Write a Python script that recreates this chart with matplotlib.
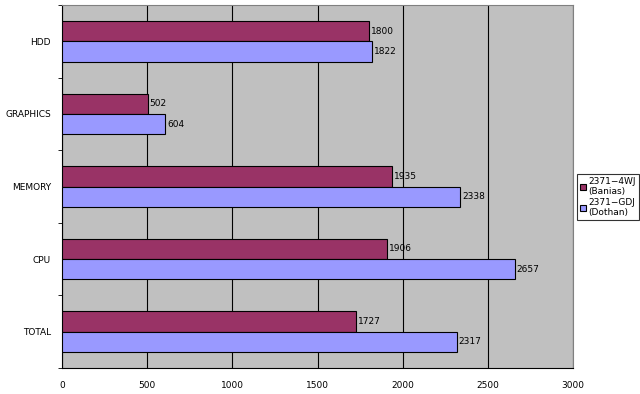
import matplotlib
matplotlib.use("Agg")
import matplotlib.pyplot as plt
import numpy as np

categories = ["HDD", "GRAPHICS", "MEMORY", "CPU", "TOTAL"]
banias = [1800, 502, 1935, 1906, 1727]
dothan = [1822, 604, 2338, 2657, 2317]
series_labels = ["2371\u22124WJ\n(Banias)", "2371\u2212GDJ\n(Dothan)"]
xticks = [0, 500, 1000, 1500, 2000, 2500, 3000]

fig = plt.figure(figsize=(6.4, 3.94), dpi=100)
ax = fig.add_axes([62/640, 1-368/394, (573-62)/640, (368-5)/394])
ax.set_facecolor("#C0C0C0")

y = np.arange(len(categories))
h = 0.28
b1 = ax.barh(y - h/2, banias, height=h, color="#993366", edgecolor="black", linewidth=0.8, label=series_labels[0], zorder=3)
b2 = ax.barh(y + h/2, dothan, height=h, color="#9999FF", edgecolor="black", linewidth=0.8, label=series_labels[1], zorder=3)

for bars, vals in ((b1, banias), (b2, dothan)):
    for rect, v in zip(bars, vals):
        ax.text(rect.get_width() + 12, rect.get_y() + rect.get_height()/2, str(v),
                va="center", ha="left", fontsize=6.5, zorder=4)

ax.set_xlim(0, 3000)
ax.set_ylim(len(categories) - 0.5, -0.5)
ax.set_xticks(xticks)
ax.set_xticklabels([str(t) for t in xticks], fontsize=6.5)
ax.set_yticks(y)
ax.set_yticklabels(categories, fontsize=6.5)
ax.set_yticks(np.arange(len(categories) + 1) - 0.5, minor=True)
ax.tick_params(axis="x", length=0, pad=9)
ax.tick_params(axis="y", which="major", length=0, pad=8)
ax.tick_params(axis="y", which="minor", length=3, direction="out")
ax.xaxis.grid(True, color="black", linewidth=0.8, zorder=1)
ax.set_axisbelow(True)
for s in ("top", "right"):
    ax.spines[s].set_color("#808080")
for s in ("left", "bottom"):
    ax.spines[s].set_color("black")

leg = fig.legend(handles=[b1, b2], labels=series_labels, loc="center left",
                 bbox_to_anchor=(577/640, 0.5), fontsize=6.5, frameon=True,
                 fancybox=False, edgecolor="black", handlelength=0.7, handleheight=0.7,
                 handletextpad=0.3, borderpad=0.3, labelspacing=0.2, borderaxespad=0)
leg.get_frame().set_linewidth(0.8)

fig.savefig("out.png", dpi=100)
